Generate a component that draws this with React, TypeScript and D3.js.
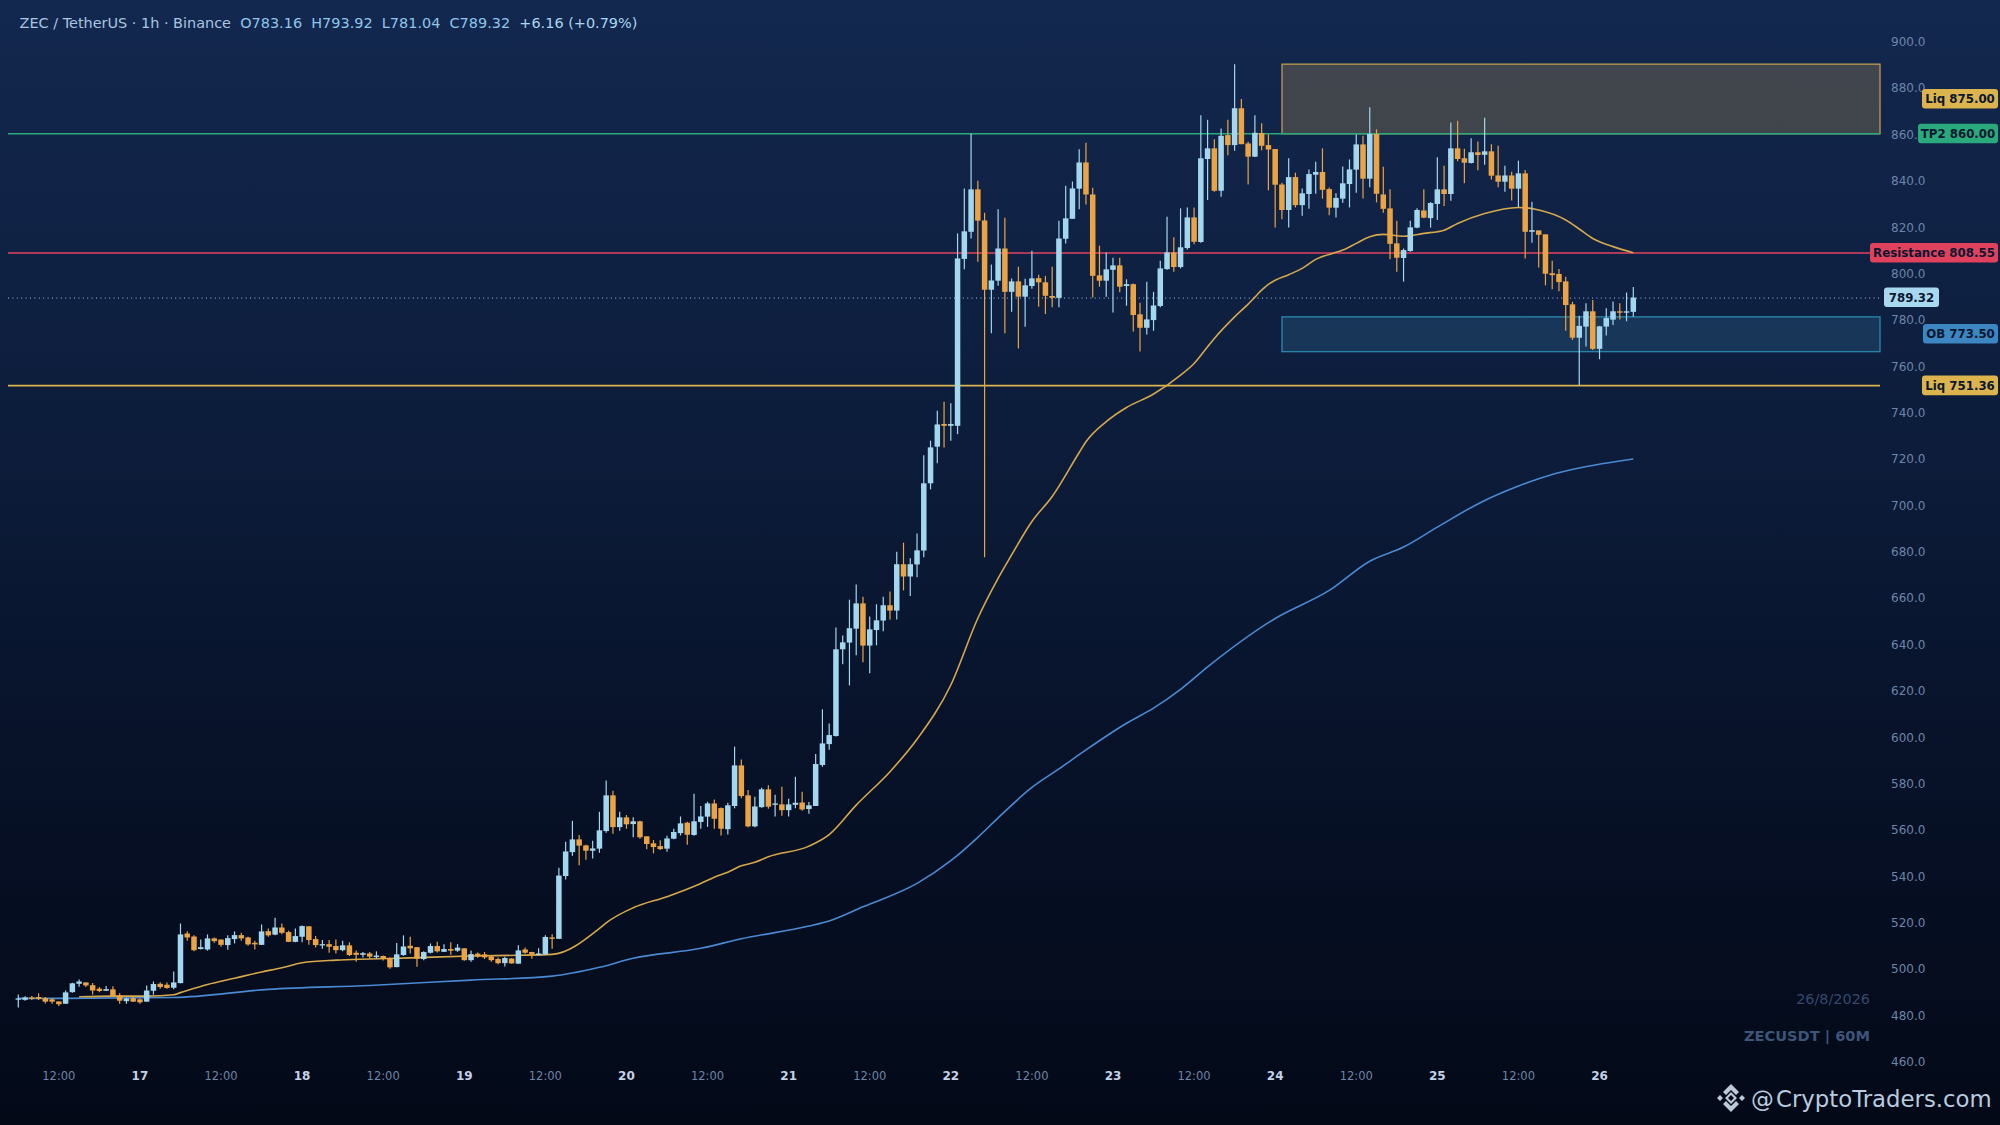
import { scaleLinear, line as d3_line, curveMonotoneX } from "d3";

const opens = [
  486.9,486.4,487.4,487.6,487.1,486.6,485.7,484.7,489.7,493.3,
  493.9,492.7,491.2,490.3,490.9,488.3,485.8,487.1,486.6,485.6,
  490.3,493.3,492.9,491.6,493.6,515,513.7,508.3,508.1,512.9,
  512.4,510,512.6,514.3,513.3,511,510.1,516,514.5,517.6,
  515.6,511.4,513.6,518.1,512.6,510.2,510.4,509.6,507.8,509.9,
  506.7,505.8,506.4,504.8,505.3,504.3,500.5,505.7,509.7,509.1,
  504,506.7,509.6,507.1,508.3,507.6,508.6,503.5,506.3,506,
  505.1,504,502.2,504.2,502,508.1,507,505.7,506,513.3,
  512.7,539.8,550.1,555.6,553,550.7,551.6,559.2,574.6,560.9,
  565.1,562.2,563.4,556.9,553.9,552.7,551.6,555.9,558.3,562.8,
  557.5,563.1,565.4,571.1,569.1,560,570,587.5,574.6,561.2,
  569.5,577.2,570.5,570.7,568.2,570.5,571.5,568.7,570,587.7,
  596.7,600.2,637.6,640.5,646.5,657.4,639.2,645.9,650,656.6,
  654.3,674.3,669,674.2,680.2,709.2,725,734.8,734,734,
  806,817.7,836,822.6,792.7,796.6,810.5,791.8,796.3,789.7,
  794.3,797.7,795.9,790,789.2,814.7,823.3,836.3,847.6,833.8,
  798.9,796.6,801.3,803.2,794.3,795.1,782.1,776.3,779.6,785.7,
  801.6,808.8,802.5,810.7,823.9,813.3,849.1,853.7,835.4,859.4,
  855.1,871,855.8,850.1,860.3,855.1,853.4,838.1,827.1,841.3,
  829.2,834,842.3,843.5,836.1,828.1,832,838.3,844.5,855.4,
  840.6,859.9,833.8,827.8,812.7,806.4,809.4,819.5,826.9,823.6,
  829.7,836,834,853.7,849.4,847.4,852,850.9,852.4,842,
  839.3,842,836.3,842.9,817.7,818.3,816.6,799.8,799.5,796.3,
  786.4,772,776.8,783.4,767.2,776.8,779.8,783.4,782.8,783.16,
];

const highs = [
  488.7,487.9,488,489.2,487.6,487.1,485.7,490.4,493.8,495.2,
  493.9,493.6,491.9,492.3,492.2,489.2,487.3,487.7,487,492.6,
  494.3,494,493.9,498.6,519.3,516,514.2,512.4,514.6,513.3,
  512.4,514.2,515.9,515.3,513.6,511.9,518.9,517.2,521.8,519.3,
  516.2,517.2,518.4,518.1,513.9,512.2,512.2,512.4,511.9,511.2,
  507.7,507,507,507.3,505.5,504.8,510.9,514.2,513.6,509.1,
  507.3,510.7,511.4,510.4,511.2,510.4,508.6,507.7,506.8,507,
  505.5,504.7,505,504.4,509.9,509,507.1,508.6,514.2,514.7,
  543.4,554.6,563.6,557.5,553.3,555,567.5,581,576.6,567.5,
  566.1,565.1,563.6,556.9,555.3,555.2,557.2,560.2,565.5,563.2,
  575.3,570,571.8,572.8,569.4,571.4,595.6,590.1,576.9,574,
  577.9,579,574.9,578.3,573.1,582.6,576.2,571.7,592.4,611.7,
  605.6,647,643.6,659,665.5,660.3,651.7,657,660.3,662.5,
  679.7,683.6,676.9,687.6,721.3,727.6,740.5,744.4,743.7,817,
  836.4,860.1,839.7,825.9,803.6,827.4,823.8,797.6,802.6,797.4,
  809.5,799.2,798.7,802.6,822.5,837.6,839.4,853.3,856.1,836.7,
  811.7,808.8,806.5,806.5,797.2,795.4,787.1,796.2,791.8,805.2,
  824.2,815.3,827.8,828.2,828.2,868,866,857.6,862.3,866,
  890,875,856.5,868,864.5,859.7,853.4,838.9,849.4,843.2,
  836.4,844.6,847.9,853.7,836.8,834.3,845.9,848.9,859.7,859.1,
  871.4,861.9,845.8,836,822.5,810.5,822.5,827.8,836,830.5,
  849.8,846.2,864.8,865.6,853.5,858,856.6,866.9,855.5,854.8,
  846.2,843.6,848.4,844.3,830.7,818.3,816.6,805.2,801.6,798.3,
  787.5,781.5,786.9,788.3,777.1,784.7,787.6,786.9,791.5,793.92,
];

const lows = [
  483.1,486,486.3,486.3,484.8,484.7,483.7,484.7,489.4,492,
  491.9,488.7,489.7,490.2,488,484.7,484.7,485.4,484.7,485.6,
  488.6,491.2,491.2,490.9,493.5,511.9,507.3,508.1,507.6,511,
  509.3,508,510.7,511.9,509.7,508.1,510.1,513.6,514.2,514.7,
  511.3,511.2,511.2,510.1,509,508.4,506.7,506.4,507.3,505.3,
  502.8,504.7,504.1,504.2,503.4,499.8,500.4,505.4,506.4,500.7,
  503.5,506.4,506.8,507,505.8,507.1,503.2,502.8,504.5,504,
  502.8,501.7,500.8,502,501.8,506.3,504.1,505.5,505.7,508.4,
  512.7,538.3,548.5,544.4,546.8,547.4,549.8,558.5,558,559.3,
  560.2,556.5,555.9,551.3,549.6,551,550.3,555.7,557.3,553.3,
  557.2,560.2,561,560.2,557.3,557.7,569,573.3,560.8,560.8,
  569.2,568.8,565.5,565.8,565.5,569,568,566.7,570,586.9,
  594.3,600,631.1,622,635,632,627.3,639.3,645.4,650.5,
  650.5,663,660.6,668.7,677.3,706.6,717.8,724.7,727.6,730.4,
  801.5,814.8,804.8,677.3,773.9,794.4,773.9,783.2,767.4,776.7,
  793.1,785.4,782.2,785.1,785.1,812.7,823.3,827.4,829.5,789.4,
  794,789.7,782.9,791.6,785.8,774.7,766.1,773.4,775,785.1,
  801.3,800.5,801.9,810.1,812.3,813,831.4,835,832.8,850.7,
  852.7,855.5,838.1,850,852.9,835.6,819.6,823.1,819.6,828.2,
  824.6,827.6,834.1,832,824.8,823.9,830.2,828.2,834.5,832.1,
  836.9,830.4,825.9,805.8,800.5,796.2,809.1,819.2,823.5,819.5,
  822.8,828.8,831.1,848.1,838.6,847.2,844.2,846.6,840.3,836.9,
  835,831.2,828.2,806.2,813,802.3,794.6,792.9,792,775,
  771,751.4,768.2,766.7,762.7,773,777.5,779.9,779.1,781.04,
];

const closes = [
  487,487.4,486.8,486.8,485.6,485.6,484.5,489.6,493.5,494.3,
  492.6,490.4,490.2,491,488,486,487,485.6,485.3,490.4,
  493.2,491.9,491.5,493.9,514.6,513.3,507.8,509.1,512.9,511.7,
  510.1,513,514.3,512.9,510.3,510.3,515.9,514.2,517.6,515.3,
  511.4,513.9,518.2,512.2,510,510.4,509.3,507.8,509.9,505.7,
  505.8,506.5,505,505.5,504,500.4,506,509.4,508.6,504.1,
  507,509.6,507.3,508.3,507.6,508.9,503.5,506.1,505.1,504.7,
  503.5,502.2,504.4,502.1,507.7,506.7,506,506.4,513.5,512.7,
  540,550.4,555.6,552.9,550.7,551.7,559.5,574.6,560.9,565.1,
  562.1,563.4,556.5,553.6,552.3,551.4,556,558.8,562.5,557.6,
  563.4,565.5,571.1,564.5,560.2,570.3,587.5,574.3,561.2,569.8,
  577.2,569.7,571.1,568.2,570.7,571.4,568.5,570.3,588.1,597,
  600.6,637.6,640.6,646.7,657.4,639.2,646.2,650.1,656.6,654.3,
  674.3,669,674.3,680.3,709.2,724.7,734.6,734,734.8,806.2,
  817.9,836,822.5,792.7,796.7,810.5,791.8,796.3,789.7,794.6,
  797.6,795.9,790.1,789.2,814.8,823.5,836.4,847.6,833.8,798.7,
  796.6,801.5,803.2,794,795.1,781.8,776.3,779.9,785.9,801.9,
  808.8,802.5,811,823.9,813.4,849.4,853.7,835.4,859.1,855.1,
  871,855.5,850.1,860.4,854.8,853.2,838,827.1,841.3,829.2,
  834.3,842.6,843.5,835.8,828.1,832.3,838.6,844.6,855.4,840.6,
  859.9,834.1,827.6,812.5,806.5,809.8,819.6,827.1,823.8,830.1,
  836,834,853.7,849.1,847.5,852,850.8,852.4,841.9,839.3,
  842,836.3,842.9,817.7,818.4,816.4,799.6,799,796,786.1,
  772,777.1,783.4,767.2,776.9,780.5,783.4,782.8,783.4,789.32,
];

// moving averages: [candle index, price]
const maFast: [number, number][] = [
  [9,487.7],[14,488],[19,488],[23,488.6],[24,489.5],[28,493],[32,495.7],[36,498.4],[39,500.2],
  [42,502.4],[47,503.5],[52,504],[58,504.5],[67,505.3],[74,505.6],[79,506],[86,517.2],[87,519.6],
  [91,526.1],[96,530.9],[101,536.6],[103,539.3],[105,541.4],[107,544.2],[109,545.7],[111,548.1],
  [117,552.7],[120,557.7],[124,570.4],[129,584.8],[133,598.8],[138,622.2],[142,651],[145,668.2],
  [147,678.3],[150,692.7],[153,703.5],[157,722.5],[158,727.1],[161,735.8],[164,741.9],[168,747.7],
  [172,755.9],[174,760.9],[176,768.1],[177,771.7],[180,781],[182,786.5],[183,789.5],[184,792.5],
  [185,795],[186,796.8],[188,799.2],[190,801.9],[192,805.8],[196,809.8],[198,812.7],[200,815.6],
  [202,816.6],[205,815.8],[208,817],[211,818.4],[213,821.3],[217,825.6],[222,828.2],[225,827.1],
  [229,822.8],[231,818.9],[233,814.8],[236,811.3],[239,808.7],
];

const maSlow: [number, number][] = [
  [0,487],[7,487],[23,487.4],[37,490.9],[52,492.6],[67,494.9],[79,496.6],[86,500.4],[91,504.3],
  [101,508.6],[107,512.7],[117,518.2],[120,520.4],[125,526.5],[133,536.6],[138,546.4],[142,556.5],
  [145,564.9],[150,578],[154,586],[158,594.2],[164,605.7],[168,612.2],[172,620.3],[176,630],
  [186,650.9],[194,663],[200,675.6],[205,681.7],[210,690.3],[216,700.3],[222,708],[227,713],
  [231,715.8],[239,719.7],
];

const priceTicks = [900,880,860,840,820,800,780,760,740,720,700,680,660,640,620,600,580,560,540,520,500,480,460];
const timeTicks: [number, string][] = [
  [6,"12:00"],[18,"17"],[30,"12:00"],[42,"18"],[54,"12:00"],[66,"19"],[78,"12:00"],[90,"20"],
  [102,"12:00"],[114,"21"],[126,"12:00"],[138,"22"],[150,"12:00"],[162,"23"],[174,"12:00"],
  [186,"24"],[198,"12:00"],[210,"25"],[222,"12:00"],[234,"26"],
];

const levels = [
  { name: "TP2", price: 860, text: "TP2 860.00", color: "#2aa97c", left: 1918 },
  { name: "Resistance", price: 808.55, text: "Resistance 808.55", color: "#e0425e", left: 1870 },
  { name: "Liq", price: 751.36, text: "Liq 751.36", color: "#dcb44e", left: 1922 },
];

const zones = [
  { from: 890, to: 860, fill: "rgba(232,188,85,0.22)", stroke: "#b8924e" },
  { from: 781, to: 766, fill: "rgba(66,150,190,0.2)", stroke: "#2a82a8" },
];

const FONT = "'DejaVu Sans', sans-serif";
const UP = "#a3d6ef";
const DOWN = "#eba343";

const xScale = scaleLinear().domain([0, 239]).range([18.3, 1633.3]);
const yScale = scaleLinear().domain([460, 900]).range([1061, 41]);

const maLine = d3_line<[number, number]>()
  .x((d) => xScale(d[0]))
  .y((d) => yScale(d[1]))
  .curve(curveMonotoneX);

function Tag({ left, right = 1998, cy, color, text }: { left: number; right?: number; cy: number; color: string; text: string }) {
  return (
    <g>
      <rect x={left} y={cy - 10} width={right - left} height={19.6} rx={3} fill={color} />
      <text
        x={(left + right) / 2}
        y={cy - 0.2}
        dy="0.36em"
        textAnchor="middle"
        fontFamily={FONT}
        fontWeight="bold"
        fontSize={11.8}
        fill="#0b1730"
      >
        {text}
      </text>
    </g>
  );
}

export default function App() {
  const chartLeft = 8;
  const chartRight = 1880;
  const last = closes[closes.length - 1];

  return (
    <div style={{ position: "absolute", left: 0, top: 0, width: 2000, height: 1125, overflow: "hidden" }}>
      <svg width={2000} height={1125} style={{ display: "block" }}>
        <defs>
          <linearGradient id="bg" x1="0" y1="0" x2="0" y2="1">
            <stop offset="0" stopColor="#13284f" />
            <stop offset="0.4" stopColor="#0c1c3a" />
            <stop offset="0.7" stopColor="#071127" />
            <stop offset="1" stopColor="#030917" />
          </linearGradient>
        </defs>
        <rect width={2000} height={1125} fill="url(#bg)" />

        {/* Zones */}
        {zones.map((z, i) => (
          <rect
            key={i}
            x={1282}
            y={yScale(z.from)}
            width={chartRight - 1282}
            height={yScale(z.to) - yScale(z.from)}
            fill={z.fill}
            stroke={z.stroke}
            strokeWidth={1.4}
          />
        ))}

        {/* Levels */}
        {levels.map((l) => (
          <line key={l.name} x1={chartLeft} x2={chartRight} y1={yScale(l.price)} y2={yScale(l.price)} stroke={l.color} strokeWidth={1.7} />
        ))}
        <line
          x1={chartLeft}
          x2={chartRight}
          y1={yScale(last) + 0.5}
          y2={yScale(last) + 0.5}
          stroke="#9cc6de"
          strokeWidth={1}
          strokeDasharray="1 3.4"
        />

        {/* Moving averages */}
        <path d={maLine(maSlow) ?? ""} fill="none" stroke="#4a8ad2" strokeWidth={1.6} />
        <path d={maLine(maFast) ?? ""} fill="none" stroke="#d6a84c" strokeWidth={1.6} />

        {/* Candles */}
        {opens.map((o, i) => {
          const c = closes[i];
          const color = c >= o ? UP : DOWN;
          const top = yScale(Math.max(o, c));
          const bottom = yScale(Math.min(o, c));
          return (
            <g key={i}>
              <line x1={xScale(i)} x2={xScale(i)} y1={yScale(highs[i])} y2={yScale(lows[i])} stroke={color} strokeWidth={1.2} />
              <rect x={xScale(i) - 2.75} y={top} width={5.5} height={Math.max(bottom - top, 1.3)} fill={color} />
            </g>
          );
        })}

        {/* Price axis */}
        {priceTicks.map((t) => (
          <text key={t} x={1891} y={yScale(t) + 0.8} dy="0.36em" fontFamily={FONT} fontSize={12} fill="#6d85a8">
            {t.toFixed(1)}
          </text>
        ))}

        {/* Time axis */}
        {timeTicks.map(([i, label]) => (
          <text
            key={i}
            x={xScale(i)}
            y={1075.5}
            dy="0.36em"
            textAnchor="middle"
            fontFamily={FONT}
            fontSize={label.length > 2 ? 11.5 : 12}
            fontWeight={label.length > 2 ? "normal" : "bold"}
            fill={label.length > 2 ? "#6d85a8" : "#c3d2e6"}
          >
            {label}
          </text>
        ))}

        {/* Price tags */}
        <Tag left={1922} cy={yScale(875)} color="#dcb44e" text="Liq 875.00" />
        {levels.map((l) => (
          <Tag key={l.name} left={l.left} cy={yScale(l.price)} color={l.color} text={l.text} />
        ))}
        <Tag left={1923} cy={334} color="#3c86c2" text="OB 773.50" />
        <Tag left={1884} right={1939} cy={297.5} color="#a8d8f0" text={last.toFixed(2)} />

        {/* Header */}
        <text x={19.5} y={28} fontFamily={FONT} fontSize={14.45} xmlSpace="preserve" style={{ whiteSpace: "pre" }}>
          <tspan fill="#a9c5e0">ZEC / TetherUS · 1h · Binance  </tspan>
          <tspan fill="#8fc6ea">O783.16  H793.92  L781.04  C789.32  </tspan>
          <tspan fill="#a9d6f0">+6.16 (+0.79%)</tspan>
        </text>

        {/* Watermarks */}
        <text x={1870} y={999} dy="0.36em" textAnchor="end" fontFamily={FONT} fontSize={14.4} fill="#33496e">26/8/2026</text>
        <text x={1870} y={1036} dy="0.36em" textAnchor="end" fontFamily={FONT} fontWeight="bold" fontSize={14.6} fill="#3d5578">ZECUSDT | 60M</text>
        <g transform="translate(1731,1098)" fill="#bccad8">
          <path d="M0,-6 L6,0 L0,6 L-6,0 Z M0,-3 L-3,0 L0,3 L3,0 Z" fillRule="evenodd" />
          <path d="M-14,0 L-11,-3 L-8,0 L-11,3 Z M14,0 L11,-3 L8,0 L11,3 Z" />
          <path d="M0,-14 L8,-6 L5,-3 L0,-8 L-5,-3 L-8,-6 Z" />
          <path d="M0,14 L8,6 L5,3 L0,8 L-5,3 L-8,6 Z" />
        </g>
        <text y={1099} dy="0.36em" fontFamily={FONT} fontSize={22.8} fill="#b9cbdf">
          <tspan x={1751}>@</tspan>
          <tspan x={1776}>CryptoTraders.com</tspan>
        </text>
      </svg>
    </div>
  );
}
